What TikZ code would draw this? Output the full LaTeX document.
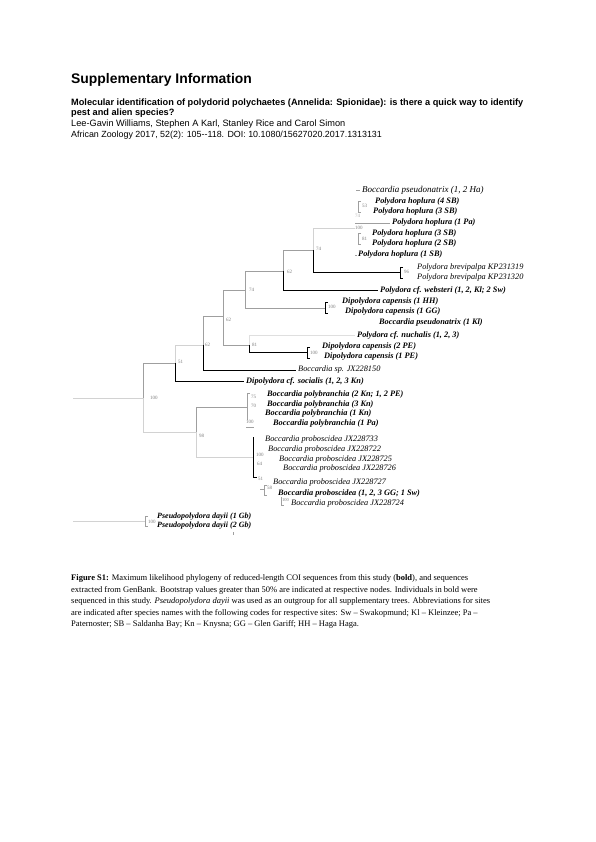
\documentclass[tikz,border=0pt]{standalone}
\usepackage{fontspec}
\setmainfont{Liberation Serif}
\newfontfamily\headfont{Liberation Sans}
\usetikzlibrary{positioning}
\tikzset{
  taxon/.style={anchor=west,inner sep=0pt,font=\fontsize{8.3}{9}\selectfont\itshape},
  ours/.style={anchor=west,inner sep=0pt,font=\fontsize{8.3}{9}\selectfont\bfseries\itshape},
  boot/.style={anchor=west,inner sep=0pt,text=gray,font=\fontsize{5}{5}\selectfont},
  branch/.style={line width=0.6pt},
  faint/.style={line width=0.5pt,gray!75},
  pale/.style={line width=0.5pt,gray!35},
  headline/.style={anchor=base west,inner sep=0pt,font=\headfont\fontsize{9.2}{10}\selectfont},
  capline/.style={anchor=base west,inner sep=0pt,font=\fontsize{8.5}{10}\selectfont}
}
\newcommand{\clade}[4][faint]{\draw[#1] (#2+3,#3) -- (#2,#3) -- (#2,#4) -- (#2+3,#4);}
\begin{document}
\begin{tikzpicture}[x=1pt,y=-1pt]
\useasboundingbox[fill=white] (0,0) rectangle (595,842);
% header
\path (71,84) node[headline,font=\headfont\bfseries\fontsize{13.9}{15}\selectfont] (title) {Supplementary Information};
\path (71,106) node[headline,font=\headfont\bfseries\fontsize{9.2}{10}\selectfont] (head1) {Molecular identification of polydorid polychaetes (Annelida: Spionidae): is there a quick way to identify};
\path (71,116) node[headline,font=\headfont\bfseries\fontsize{9.2}{10}\selectfont] (head2) {pest and alien species?};
\path (71,127) node[headline] (authors) {Lee-Gavin Williams, Stephen A Karl, Stanley Rice and Carol Simon};
\path (71,138) node[headline,font=\headfont\fontsize{8.9}{10}\selectfont] (journal) {African Zoology 2017, 52(2): 105--118. DOI: 10.1080/15627020.2017.1313131};
% taxa
\path (362,190) node[taxon,font=\fontsize{9}{10}\selectfont\itshape] (t1) {Boccardia pseudonatrix (1, 2 Ha)};
\path (375,202) node[ours] (t2) {Polydora hoplura (4 SB)};
\path (373,212) node[ours] (t3) {Polydora hoplura (3 SB)};
\path (392,223) node[ours] (t4) {Polydora hoplura (1 Pa)};
\path (372,234) node[ours] (t5) {Polydora hoplura (3 SB)};
\path (372,244) node[ours] (t6) {Polydora hoplura (2 SB)};
\path (358,255) node[ours] (t7) {Polydora hoplura (1 SB)};
\path (417,268) node[taxon] (t8) {Polydora brevipalpa KP231319};
\path (417,278) node[taxon] (t9) {Polydora brevipalpa KP231320};
\path (380,290) node[ours] (t10) {Polydora cf. websteri (1, 2, Kl; 2 Sw)};
\path (342,302) node[ours] (t11) {Dipolydora capensis (1 HH)};
\path (345,312) node[ours] (t12) {Dipolydora capensis (1 GG)};
\path (379,323) node[ours] (t13) {Boccardia pseudonatrix (1 Kl)};
\path (357,335) node[ours] (t14) {Polydora cf. nuchalis (1, 2, 3)};
\path (322,347) node[ours] (t15) {Dipolydora capensis (2 PE)};
\path (324,357) node[ours] (t16) {Dipolydora capensis (1 PE)};
\path (298,370) node[taxon] (t17) {Boccardia sp. JX228150};
\path (246,381) node[ours] (t18) {Dipolydora cf. socialis (1, 2, 3 Kn)};
\path (267,395) node[ours] (t19) {Boccardia polybranchia (2 Kn; 1, 2 PE)};
\path (267,405) node[ours] (t20) {Boccardia polybranchia (3 Kn)};
\path (265,414) node[ours] (t21) {Boccardia polybranchia (1 Kn)};
\path (273,424) node[ours] (t22) {Boccardia polybranchia (1 Pa)};
\path (265,440) node[taxon] (t23) {Boccardia proboscidea JX228733};
\path (268,450) node[taxon] (t24) {Boccardia proboscidea JX228722};
\path (279,459) node[taxon] (t25) {Boccardia proboscidea JX228725};
\path (283,468) node[taxon] (t26) {Boccardia proboscidea JX228726};
\path (273,482) node[taxon] (t27) {Boccardia proboscidea JX228727};
\path (278,493) node[ours] (t28) {Boccardia proboscidea (1, 2, 3 GG; 1 Sw)};
\path (291,503) node[taxon] (t29) {Boccardia proboscidea JX228724};
\path (157,517) node[ours,font=\fontsize{8}{9}\selectfont\bfseries\itshape] (t30) {Pseudopolydora dayii (1 Gb)};
\path (157,526) node[ours,font=\fontsize{8}{9}\selectfont\bfseries\itshape] (t31) {Pseudopolydora dayii (2 Gb)};
% inner nodes
\coordinate (root) at (73,398);
\coordinate (n100) at (143,398);
\coordinate (n51) at (175,363);
\coordinate (n62a) at (203,345);
\coordinate (n62b) at (223,316);
\coordinate (n74a) at (245,290);
\coordinate (n62c) at (283,271);
\coordinate (n74b) at (313,250);
\coordinate (hop) at (355,228);
\coordinate (brevi) at (400,272);
\coordinate (cap1) at (325,308);
\coordinate (n81) at (249,345);
\coordinate (cap2) at (307,352);
\coordinate (n98) at (196,432);
\coordinate (poly) at (247,407);
\coordinate (prob) at (253,457);
\coordinate (outg) at (145,521);
% branches
\draw[pale] (root) -- (n100);
\draw[faint] (n100) |- (n51);
\draw[pale] (n100) |- (n98);
\draw[pale] (n51) |- (n62a);
\draw[branch] (n51) |- ([xshift=-2pt]t18.west);
\draw[faint] (n62a) |- (n62b);
\draw[branch] (n62a) |- ([xshift=-2pt]t17.west);
\draw[faint] (n62b) |- (n74a);
\draw[faint] (n62b) |- (n81);
\draw[faint] (n74a) |- (n62c);
\draw[faint] (n74a) |- (cap1);
\draw[faint] (n62c) |- (n74b);
\draw[branch] (n62c) |- ([xshift=-2pt]t10.west);
\draw[branch] (n74b) |- (brevi);
\draw[pale] (n74b) |- (hop);
\draw[gray!25,line width=0.4pt] (n81) |- ([xshift=-2pt]t14.west);
\draw[branch] (n81) |- (cap2);
\draw[faint] (n98) |- (poly);
\draw[pale] (n98) |- (prob);
\draw[pale] (root |- outg) -- (outg);
% clades at the tips
\draw[faint] (356,190) -- (360,190);
\clade{358}{201}{212}
\draw[faint] (hop |- t4.west) -- ([xshift=-2pt]t4.west);
\clade{358}{233}{244}
\draw[faint] (355,255) -- (357,255);
\clade[branch]{400}{267}{278}
\clade[branch]{325}{302}{313}
\clade[branch]{307}{347}{358}
\draw[faint] (250,393) -- (247,393) -- (247,420);
\draw[faint] (246,427) -- (254,427);
\draw[branch] (prob |- 0,437) -- (prob |- 0,477) -- (257,477);
\draw[faint] (260,489) -- (264,489);
\clade{264}{485}{495}
\draw[faint] (281,497) -- (281,505) -- (284,505);
\clade{145}{516}{526}
\draw[faint] (233,532) -- (233,535);
% bootstrap values
\path (362,206) node[boot] {53};
\path (355,216) node[boot,text=gray!60] {74};
\path (355,228) node[boot] {100};
\path (362,239) node[boot] {81};
\path (316,249) node[boot] {74};
\path (404,272) node[boot] {96};
\path (287,272) node[boot] {62};
\path (249,290) node[boot] {74};
\path (328,307) node[boot] {100};
\path (226,320) node[boot] {62};
\path (252,345) node[boot] {81};
\path (205,345) node[boot] {62};
\path (310,353) node[boot] {100};
\path (178,362) node[boot] {51};
\path (150,398) node[boot] {100};
\path (251,397) node[boot] {75};
\path (251,406) node[boot] {70};
\path (246,422) node[boot] {100};
\path (199,436) node[boot] {98};
\path (256,455) node[boot] {100};
\path (257,464) node[boot] {64};
\path (258,479) node[boot] {51};
\path (267,488) node[boot] {58};
\path (282,500) node[boot,font=\fontsize{4.5}{5}\selectfont] {100};
\path (148,522) node[boot] {100};
% caption
\path (71,580) node[capline] (cap1line) {\textbf{Figure S1:} Maximum likelihood phylogeny of reduced-length COI sequences from this study (\textbf{bold}), and sequences};
\path (71,592) node[capline] (cap2line) {extracted from GenBank. Bootstrap values greater than 50\% are indicated at respective nodes. Individuals in bold were};
\path (71,603) node[capline] (cap3line) {sequenced in this study. \textit{Pseudopolydora dayii} was used as an outgroup for all supplementary trees. Abbreviations for sites};
\path (71,615) node[capline] (cap4line) {are indicated after species names with the following codes for respective sites: Sw -- Swakopmund; Kl -- Kleinzee; Pa --};
\path (71,626) node[capline] (cap5line) {Paternoster; SB -- Saldanha Bay; Kn -- Knysna; GG -- Glen Gariff; HH -- Haga Haga.};
\end{tikzpicture}
\end{document}
